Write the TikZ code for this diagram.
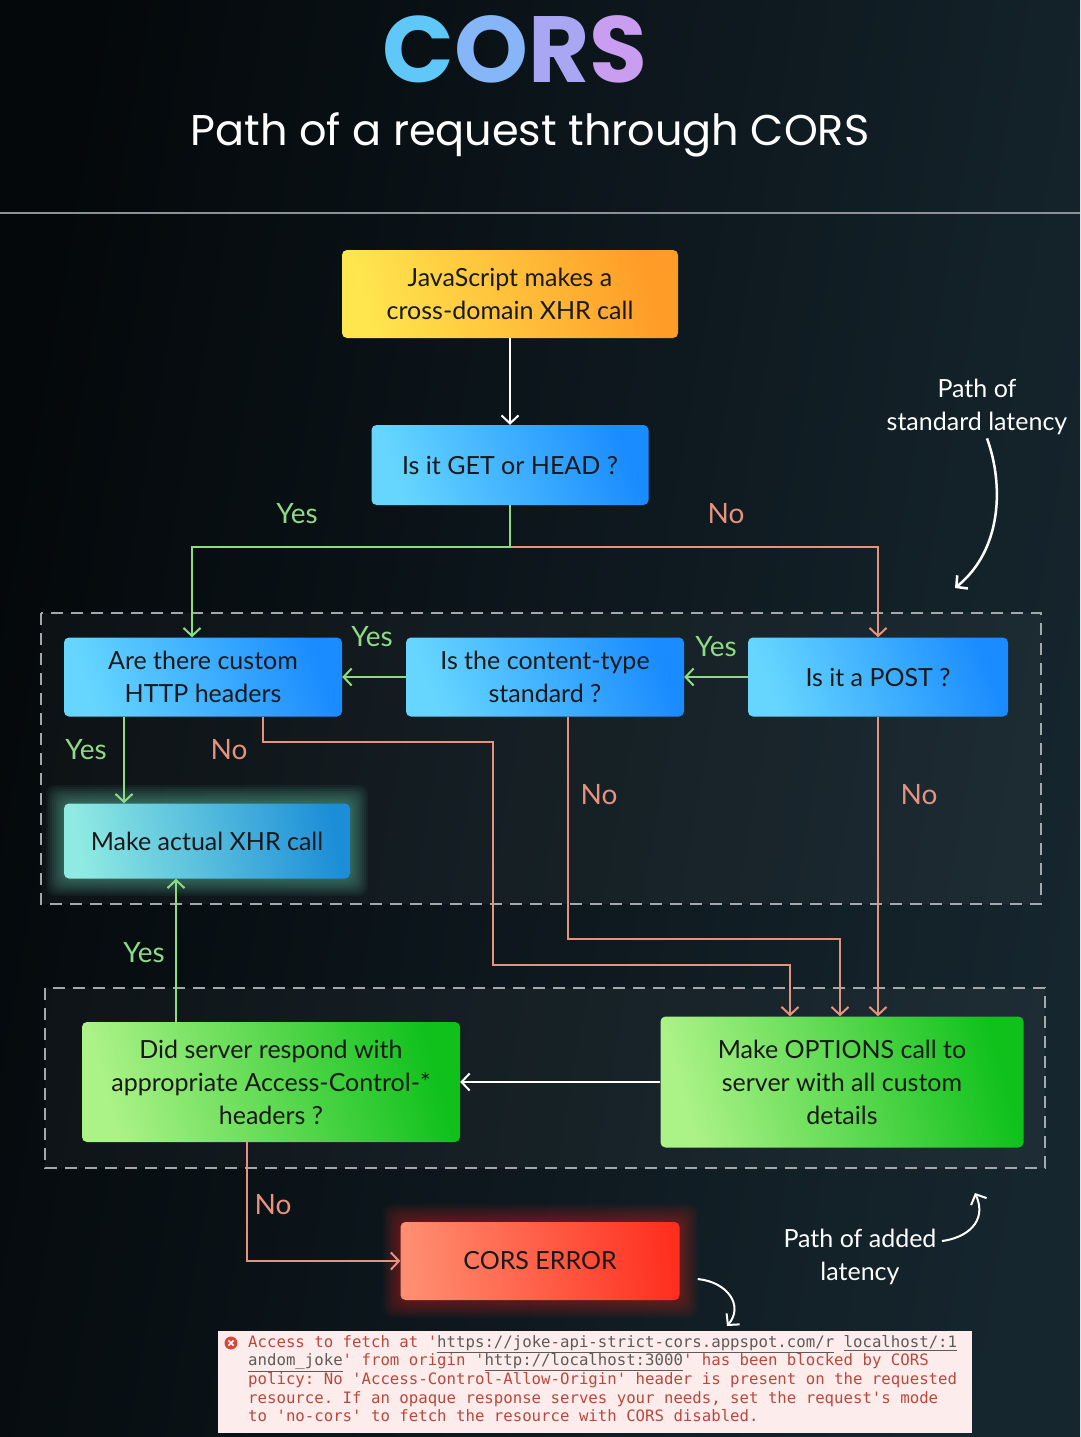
\documentclass[tikz,border=0pt]{standalone}
\usepackage{fontspec}
\setmainfont{Lato}
\setmonofont{DejaVu Sans Mono}
\newfontfamily\poppins{Poppins}
\usetikzlibrary{arrows.meta}

\definecolor{bgdark}{HTML}{04080B}
\definecolor{bglight}{HTML}{16262E}
\definecolor{rule}{HTML}{8C9196}
\definecolor{frame}{HTML}{A4A8AC}
\definecolor{yesgreen}{HTML}{8EDB86}
\definecolor{nored}{HTML}{E5927E}
\definecolor{yelL}{HTML}{FFE54E}
\definecolor{yelR}{HTML}{FF9B27}
\definecolor{bluL}{HTML}{66D6FF}
\definecolor{bluR}{HTML}{1B8CFF}
\definecolor{tealL}{HTML}{8EEAE2}
\definecolor{tealM}{HTML}{14DA9E}
\definecolor{tealR}{HTML}{1C8ED8}
\definecolor{grnL}{HTML}{ABF287}
\definecolor{grnR}{HTML}{10C11C}
\definecolor{errL}{HTML}{FF8E70}
\definecolor{errR}{HTML}{FF2F1F}
\definecolor{msgbg}{HTML}{FCEDEC}
\definecolor{msgtext}{HTML}{B9483C}
\definecolor{msglink}{HTML}{5E5A5A}
\definecolor{iconred}{HTML}{D9473B}
\definecolor{cA}{HTML}{5FC8F8}
\definecolor{cB}{HTML}{86B6F8}
\definecolor{cC}{HTML}{A9A6F4}
\definecolor{cD}{HTML}{C99EF1}

\newcommand\lnk[1]{\textcolor{msglink}{\underline{#1}}}

\begin{document}
\begin{tikzpicture}[x=1pt,y=-1pt,
    every node/.style={font=\fontsize{25}{33}\selectfont, align=center},
    box/.style={rounded corners=5pt, inner sep=0pt, text=black!90},
    yelbox/.style={box, left color=yelL, right color=yelR, shading angle=105},
    blubox/.style={box, left color=bluL, right color=bluR, shading angle=110},
    tealbox/.style={box, left color=tealL, middle color=tealM, right color=tealR, shading angle=100},
    grnbox/.style={box, left color=grnL, right color=grnR, shading angle=105},
    errbox/.style={box, left color=errL, right color=errR, shading angle=95},
    lbl/.style={font=\fontsize{28}{28}\selectfont},
    yeslbl/.style={lbl, text=yesgreen},
    nolbl/.style={lbl, text=nored},
    note/.style={text=white, font=\fontsize{25}{33}\selectfont},
    zone/.style={frame, dash pattern=on 12pt off 8pt, line width=1.3pt, fill=white, fill opacity=0.035},
    yesline/.style={yesgreen, line width=2pt},
    noline/.style={nored, line width=2pt},
    arr/.style={-{Straight Barb[length=8pt,width=17pt]}}]
  \useasboundingbox (0,0) rectangle (1080,1437);
  \shade[left color=bgdark, right color=bglight, shading angle=80] (0,0) rectangle (1080,1437);

  % title
  \draw (515,49) node[font=\poppins\bfseries\fontsize{94}{94}\selectfont] (title) {\textcolor{cA}{C}\textcolor{cB}{O}\textcolor{cC}{R}\textcolor{cD}{S}}
        (530,145) node[anchor=base, text=white, font=\poppins\fontsize{43}{43}\selectfont] (sub) {Path of a request through CORS};
  \draw[rule, line width=2pt] (0,213) -- (1080,213);

  % zones
  \draw[zone] (41,613) rectangle (1041,904);
  \draw[zone] (45,988) rectangle (1045,1168);

  % glows
  \foreach \g in {2,4,...,18} {
    \fill[tealM!60!white, opacity=0.05, rounded corners=10pt] (64-\g,803-\g) rectangle (350+\g,878+\g);
    \fill[errR, opacity=0.045, rounded corners=10pt] (401-\g,1222-\g) rectangle (680+\g,1300+\g);
  }

  % boxes
  \draw
    (510,294) node[yelbox, minimum width=336pt, minimum height=88pt] (js) {JavaScript makes a\\cross-domain XHR call}
    (510,465) node[blubox, minimum width=277pt, minimum height=80pt] (get) {Is it GET or HEAD ?}
    (203,677) node[blubox, minimum width=278pt, minimum height=79pt] (hdr) {Are there custom\\HTTP headers}
    (545,677) node[blubox, minimum width=278pt, minimum height=79pt] (ctype) {Is the content-type\\standard ?}
    (878,677) node[blubox, minimum width=260pt, minimum height=79pt] (post) {Is it a POST ?}
    (207,841) node[tealbox, minimum width=286pt, minimum height=75pt] (xhr) {Make actual XHR call}
    (271,1082) node[grnbox, minimum width=378pt, minimum height=120pt] (did) {Did server respond with\\appropriate Access-Control-*\\headers ?}
    (842,1082) node[grnbox, minimum width=363pt, minimum height=131pt] (opts) {Make OPTIONS call to\\server with all custom\\details}
    (540,1261) node[errbox, minimum width=279pt, minimum height=78pt] (err) {CORS ERROR};

  % connectors
  \draw[white, line width=2pt, arr] (js) -- (get);
  \begin{scope}[noline, arr]
    \draw ([yshift=-42pt]get.south) -| (post.north);
    \draw ([xshift=60pt]hdr.south) -- ++(0,25) -| (493,965) -| ([xshift=-52pt]opts.north);
    \draw ([xshift=23pt]ctype.south) -- ++(0,222) -| ([xshift=-2pt]opts.north);
    \draw (post.south) -- (post.south |- opts.north);
    \draw ([xshift=-24pt]did.south) |- (err.west);
  \end{scope}
  \begin{scope}[yesline, arr]
    \draw (get.south) -- ++(0,42) -| ([xshift=-11pt]hdr.north);
    \draw (post.west) -- (ctype.east);
    \draw (ctype.west) -- (hdr.east);
    \draw ([xshift=-79pt]hdr.south) -- ([xshift=-79pt]hdr.south |- xhr.north);
    \draw ([xshift=-95pt]did.north) -- ([xshift=-95pt]did.north |- xhr.south);
  \end{scope}
  \draw[white, line width=2pt, arr] (opts.west) -- (did.east);

  % labels
  \draw
    (297,514) node[yeslbl] (y1) {Yes}
    (726,514) node[nolbl] (n1) {No}
    (372,637) node[yeslbl] (y2) {Yes}
    (716,647) node[yeslbl] (y3) {Yes}
    (86,750) node[yeslbl] (y4) {Yes}
    (229,750) node[nolbl] (n2) {No}
    (599,795) node[nolbl] (n3) {No}
    (919,795) node[nolbl] (n4) {No}
    (144,953) node[yeslbl] (y5) {Yes}
    (273,1205) node[nolbl] (n5) {No};

  % notes
  \draw (977,407) node[note] (std) {Path of\\standard latency}
        (860,1257) node[note] (added) {Path of added\\latency};
  \draw[white, line width=2.5pt, arr] ([xshift=10pt]std.south) .. controls (1004,485) and (1002,550) .. (955,588);
  \draw[white, line width=2pt, arr] ([xshift=2pt,yshift=16pt]added.east) .. controls (966,1238) and (988,1222) .. (975,1193);
  \draw[white, line width=2pt, arr] ([xshift=18pt,yshift=-18pt]err.east) .. controls (728,1282) and (744,1306) .. (727,1326);

  % console message
  \draw (595,1382) node[fill=msgbg, minimum width=754pt, minimum height=102pt, inner sep=0pt] (msg) {};
  \draw (231,1343) node[circle, fill=iconred, minimum size=13pt, inner sep=0pt] (icon) {};
  \draw[white, line width=1.5pt] ([shift={(-2.6pt,-2.6pt)}]icon.center) -- ([shift={(2.6pt,2.6pt)}]icon.center)
                                 ([shift={(-2.6pt,2.6pt)}]icon.center) -- ([shift={(2.6pt,-2.6pt)}]icon.center);
  \draw (248,1335) node[anchor=north west, inner sep=0pt, align=left, text=msgtext, font=\ttfamily\fontsize{15.7}{18.6}\selectfont] (msgtxt)
    {Access to fetch at '\lnk{https://joke-api-strict-cors.appspot.com/r} \lnk{localhost/:1}\\
     \lnk{andom\_joke}' from origin '\lnk{http://localhost:3000}' has been blocked by CORS\\
     policy: No 'Access-Control-Allow-Origin' header is present on the requested\\
     resource. If an opaque response serves your needs, set the request's mode\\
     to 'no-cors' to fetch the resource with CORS disabled.};
\end{tikzpicture}
\end{document}
